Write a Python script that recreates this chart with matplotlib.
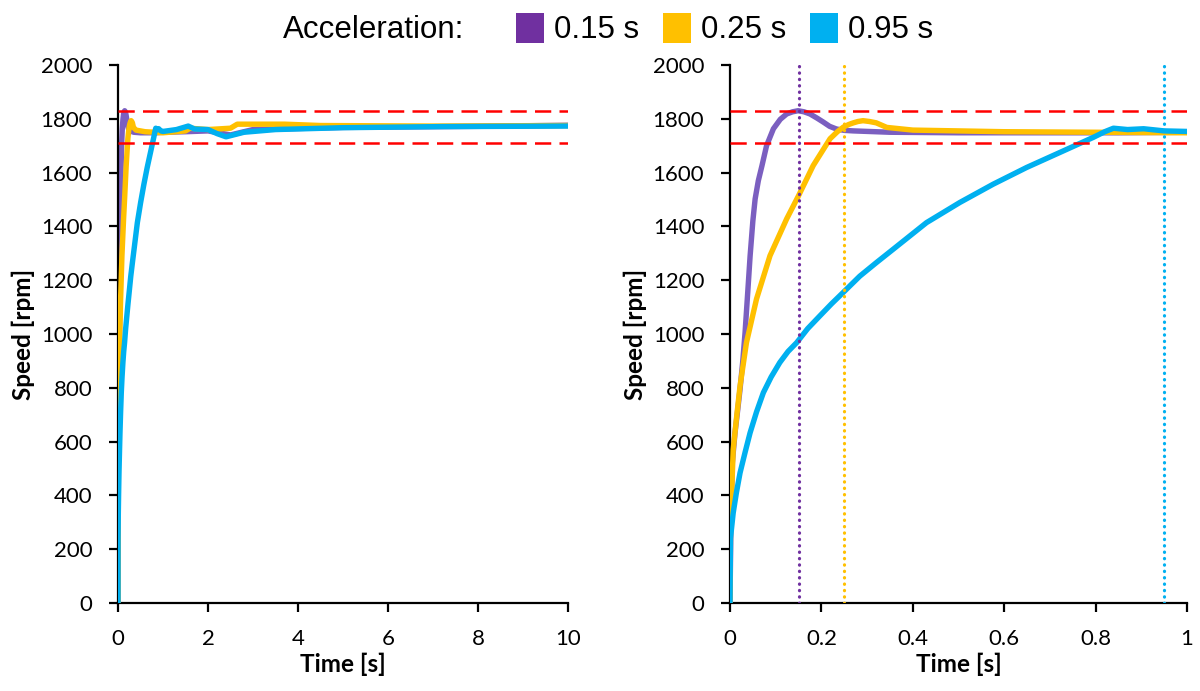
import numpy as np
import matplotlib
matplotlib.use("Agg")
import matplotlib.pyplot as plt
from matplotlib.patches import Patch

# speed traces, first second
t_015 = [0, 0.002, 0.005, 0.011, 0.017, 0.022, 0.028, 0.033, 0.039, 0.044, 0.05, 0.055,
         0.062, 0.07, 0.08, 0.095, 0.11, 0.124, 0.137, 0.149,
         0.162, 0.175, 0.19, 0.204, 0.218, 0.233, 0.25, 0.27, 0.35, 0.5, 0.7, 0.85, 1.0]
v_015 = [0, 300, 520, 633, 720, 795, 900, 1006, 1160, 1290, 1420, 1502,
         1570, 1626, 1700, 1763, 1798, 1818, 1826, 1830,
         1826, 1818, 1803, 1788, 1772, 1762, 1757, 1755, 1750, 1748, 1748, 1748, 1750]

t_025 = [0, 0.001, 0.007, 0.015, 0.022, 0.036, 0.058, 0.0875, 0.124, 0.15, 0.182, 0.219,
         0.235, 0.248, 0.26, 0.27, 0.28, 0.291, 0.305, 0.32, 0.343, 0.4, 0.6, 0.8, 1.0]
v_025 = [0, 280, 571, 700, 807, 968, 1130, 1291, 1428, 1514, 1626, 1726,
         1752, 1769, 1779, 1785, 1790, 1793, 1790, 1785, 1768, 1758, 1752, 1750, 1748]

t_095 = [0, 0.001, 0.007, 0.014, 0.022, 0.033, 0.044, 0.058, 0.073, 0.09, 0.109, 0.127, 0.146,
         0.17, 0.197, 0.222, 0.248, 0.284, 0.32, 0.357, 0.43, 0.503, 0.576, 0.649, 0.722,
         0.795, 0.82, 0.839, 0.87, 0.905, 0.95, 1.0]
v_095 = [0, 240, 335, 410, 484, 560, 633, 710, 782, 840, 894, 935, 968,
         1020, 1068, 1112, 1155, 1215, 1265, 1315, 1414, 1489, 1557, 1619, 1675,
         1731, 1752, 1765, 1760, 1763, 1755, 1753]

# rest of the 10 s record (left panel)
t_015_long = [1.5, 2.0, 2.5, 3.0, 5.0, 8.0, 10.0]
v_015_long = [1752, 1755, 1740, 1760, 1768, 1772, 1776]
t_025_long = [1.5, 1.6, 2.0, 2.5, 2.65, 3.7, 4.5, 7.0, 10.0]
v_025_long = [1755, 1765, 1760, 1765, 1780, 1780, 1775, 1773, 1775]
t_095_long = [1.3, 1.56, 1.7, 2.0, 2.2, 2.4, 2.8, 3.5, 5.0, 7.2, 10.0]
v_095_long = [1760, 1773, 1762, 1760, 1745, 1733, 1750, 1760, 1767, 1771, 1773]

labels = ["0.15 s", "0.25 s", "0.95 s"]
accel_times = [0.15, 0.25, 0.95]
band = [1710, 1830]

line_colors = ["#7B5FC0", "#FFC000", "#00B0F0"]
patch_colors = ["#7030A0", "#FFC000", "#00B0F0"]
dot_colors = ["#7030A0", "#FFC000", "#00B0F0"]

plt.rcParams["font.family"] = ["Lato", "DejaVu Sans"]

fig = plt.figure(figsize=(12, 6.91), dpi=100)
ax1 = fig.add_axes([118 / 1200, 1 - 603 / 691, 450 / 1200, 538 / 691])
ax2 = fig.add_axes([730 / 1200, 1 - 603 / 691, 457 / 1200, 538 / 691])

short = [(t_015, v_015), (t_025, v_025), (t_095, v_095)]
longs = [(t_015_long, v_015_long), (t_025_long, v_025_long), (t_095_long, v_095_long)]

for i, ((t, v), (tl, vl)) in enumerate(zip(short, longs)):
    ax1.plot(list(t) + tl, list(v) + vl, color=line_colors[i], lw=3.9, zorder=2 + i,
             solid_joinstyle="round")
    ax2.plot(t, v, color=line_colors[i], lw=3.9, zorder=2 + i, solid_joinstyle="round")
    ax2.axvline(accel_times[i], color=dot_colors[i], lw=2.3, ls=(0, (0.1, 1.9)),
                dash_capstyle="round", zorder=6)

for ax, xmax in ((ax1, 10), (ax2, 1)):
    for b in band:
        ax.axhline(b, color="#FF0000", lw=1.8, ls=(0, (6.5, 3.3)), zorder=7)
    ax.set_xlim(0, xmax)
    ax.set_ylim(0, 2000)
    ax.set_yticks(np.arange(0, 2001, 200))
    ax.spines["top"].set_visible(False)
    ax.spines["right"].set_visible(False)
    for s in ("left", "bottom"):
        ax.spines[s].set_linewidth(1.6)
    ax.tick_params(direction="out", length=6.5, width=1.6, labelsize=16, pad=12)
    ax.set_xlabel("Time [s]", fontsize=17.5, fontweight="bold", labelpad=3)
    ax.set_ylabel("Speed [rpm]", fontsize=17.5, fontweight="bold", labelpad=4)

ax1.set_xticks(np.arange(0, 11, 2))
ax2.set_xticks([0, 0.2, 0.4, 0.6, 0.8, 1.0])
ax2.set_xticklabels(["0", "0.2", "0.4", "0.6", "0.8", "1"])

fig.text(283 / 1200, 1 - 30 / 691, "Acceleration:", fontsize=22.5,
         family=["Liberation Sans", "DejaVu Sans"], va="center", ha="left")
handles = [Patch(facecolor=c, edgecolor="none") for c in patch_colors]
fig.legend(handles, labels, loc="center left", bbox_to_anchor=(500 / 1200, 1 - 29 / 691),
           ncol=3, frameon=False, borderpad=0, handlelength=0.9, handleheight=1.1,
           handletextpad=0.33, columnspacing=0.75,
           prop={"family": ["Liberation Sans", "DejaVu Sans"], "size": 22.5})

fig.savefig("out.png", dpi=100)
